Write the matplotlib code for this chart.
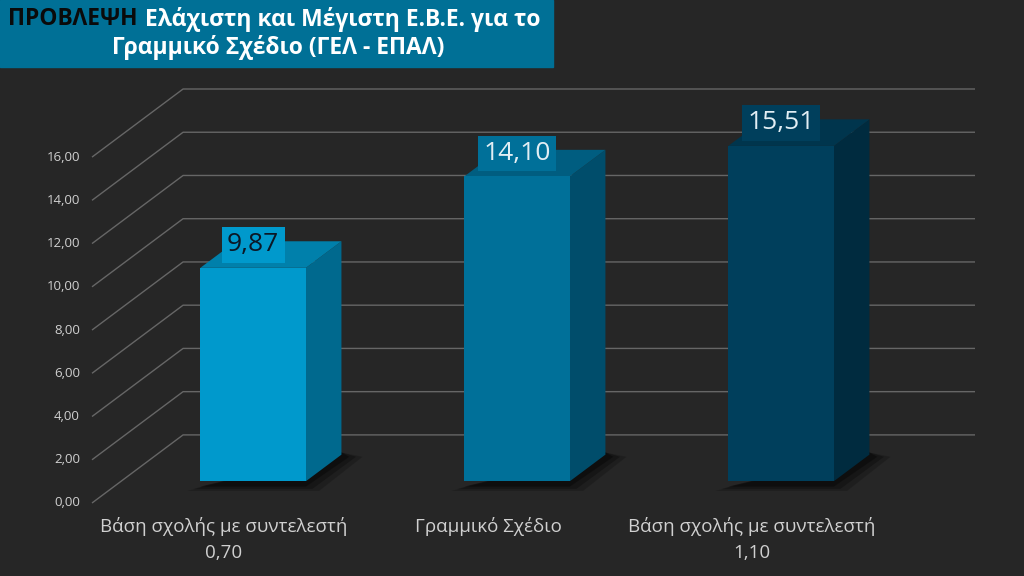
#3D style bar chart - min / max E.B.E. for Γραμμικό Σχέδιο

import matplotlib
matplotlib.use("Agg")
import matplotlib.pyplot as plt
from matplotlib.patches import Polygon, Rectangle
from matplotlib.transforms import offset_copy

plt.rcParams['font.family'] = ['Open Sans', 'DejaVu Sans']

# data
categories = ["Βάση σχολής με συντελεστή\n0,70", "Γραμμικό Σχέδιο", "Βάση σχολής με συντελεστή\n1,10"]
values = [9.87, 14.10, 15.51]
value_labels = ["9,87", "14,10", "15,51"]
ticks = [0, 2, 4, 6, 8, 10, 12, 14, 16]
tick_labels = ["0,00", "2,00", "4,00", "6,00", "8,00", "10,00", "12,00", "14,00", "16,00"]

# colours per bar: front / side / top / label text
front_col = ['#0099CC', '#007099', '#003F5C']
side_col = ['#00698E', '#004D6B', '#002B3F']
top_col = ['#0080AB', '#005D80', '#00354D']
label_txt = ['#0B1826', '#E2EEF4', '#E2EEF4']

BG = '#262626'
GRID = '#666666'

# oblique projection: depth 0 = front plane, 1 = back wall
DX = 0.345   # category units
DY = 3.15    # value units
D0, D1 = 0.32, 0.71   # bar depth range
W = 0.40              # bar width

fig = plt.figure(figsize=(10.24, 5.76), dpi=100, facecolor=BG)
ax = fig.add_axes([92 / 1024, 73 / 576, 883 / 1024, 414 / 576])
ax.set_facecolor(BG)
ax.set_xlim(-0.5, 2.5 + DX)
ax.set_ylim(0, ticks[-1] + DY)
ax.axis('off')


def proj(x, v, d):
    return (x + d * DX, v + d * DY)


# side wall diagonals + back wall gridlines
for t in ticks:
    ax.plot([-0.5, -0.5 + DX, 2.5 + DX], [t, t + DY, t + DY],
            color=GRID, lw=1, zorder=1, clip_on=False, solid_capstyle='butt')

# tick labels
tick_tr = offset_copy(ax.transData, fig=fig, x=-12, y=0, units='dots')
for t, lab in zip(ticks, tick_labels):
    ax.text(-0.5, t, lab, ha='right', va='center', fontsize=9.5,
            color='#D0D0D0', transform=tick_tr)

# bars
for i, v in enumerate(values):
    x0, x1 = i - W / 2, i + W / 2
    # soft shadow on the floor
    for grow, a in [(0.05, 0.25), (0.025, 0.4), (0.0, 0.6)]:
        sh = [proj(x0 - grow, -0.25 - grow * 4, D0), proj(x1 + grow, -0.25 - grow * 4, D0),
              proj(x1 + 0.03 + grow, -0.1, D1), proj(x1, 0.1, D1)]
        ax.add_patch(Polygon(sh, closed=True, color='#0A0A0A', alpha=a, zorder=2, lw=0))
    # side face
    side = [proj(x1, 0, D0), proj(x1, 0, D1), proj(x1, v, D1), proj(x1, v, D0)]
    ax.add_patch(Polygon(side, closed=True, color=side_col[i], zorder=3, lw=0))
    # top face
    top = [proj(x0, v, D0), proj(x1, v, D0), proj(x1, v, D1), proj(x0, v, D1)]
    ax.add_patch(Polygon(top, closed=True, color=top_col[i], zorder=3, lw=0))
    # front face
    fx, fy = proj(x0, 0, D0)
    ax.add_patch(Rectangle((fx, fy), W, v, color=front_col[i], zorder=4, lw=0))

    # value label in a box above the bar
    cx, cy = proj(i, v, D0)
    lab_tr = offset_copy(ax.transData, fig=fig, x=0, y=23, units='dots')
    ax.text(cx, cy, value_labels[i], ha='center', va='center', fontsize=19,
            color=label_txt[i], transform=lab_tr, zorder=6,
            bbox=dict(boxstyle='square,pad=0.2', fc=front_col[i], ec='none'))

# category labels on the front plane
cat_tr = offset_copy(ax.transData, fig=fig, x=0, y=-14, units='dots')
for i, c in enumerate(categories):
    ax.text(i, 0, c, ha='center', va='top', fontsize=13.5, color='#D0D0D0',
            linespacing=1.6, transform=cat_tr)

# title box
fig.patches.append(Rectangle((0, 1 - 67 / 576), 553 / 1024, 67 / 576,
                             transform=fig.transFigure, color='#007096', zorder=0))
t1 = fig.text(8 / 1024, 1 - 19 / 576, "ΠΡΟΒΛΕΨΗ", ha='left', va='center',
              fontsize=16.5, fontweight='bold', color='#0A0A0A')
fig.canvas.draw()
bb = t1.get_window_extent(fig.canvas.get_renderer())
fig.text((bb.x1 + 7) / 1024, 1 - 19 / 576, "Ελάχιστη και Μέγιστη Ε.Β.Ε. για το",
         ha='left', va='center', fontsize=16.5, fontweight='bold', color='white')
fig.text(278 / 1024, 1 - 48 / 576, "Γραμμικό Σχέδιο (ΓΕΛ - ΕΠΑΛ)", ha='center',
         va='center', fontsize=16.5, fontweight='bold', color='white')

fig.savefig("out.png", dpi=100, facecolor=BG)
